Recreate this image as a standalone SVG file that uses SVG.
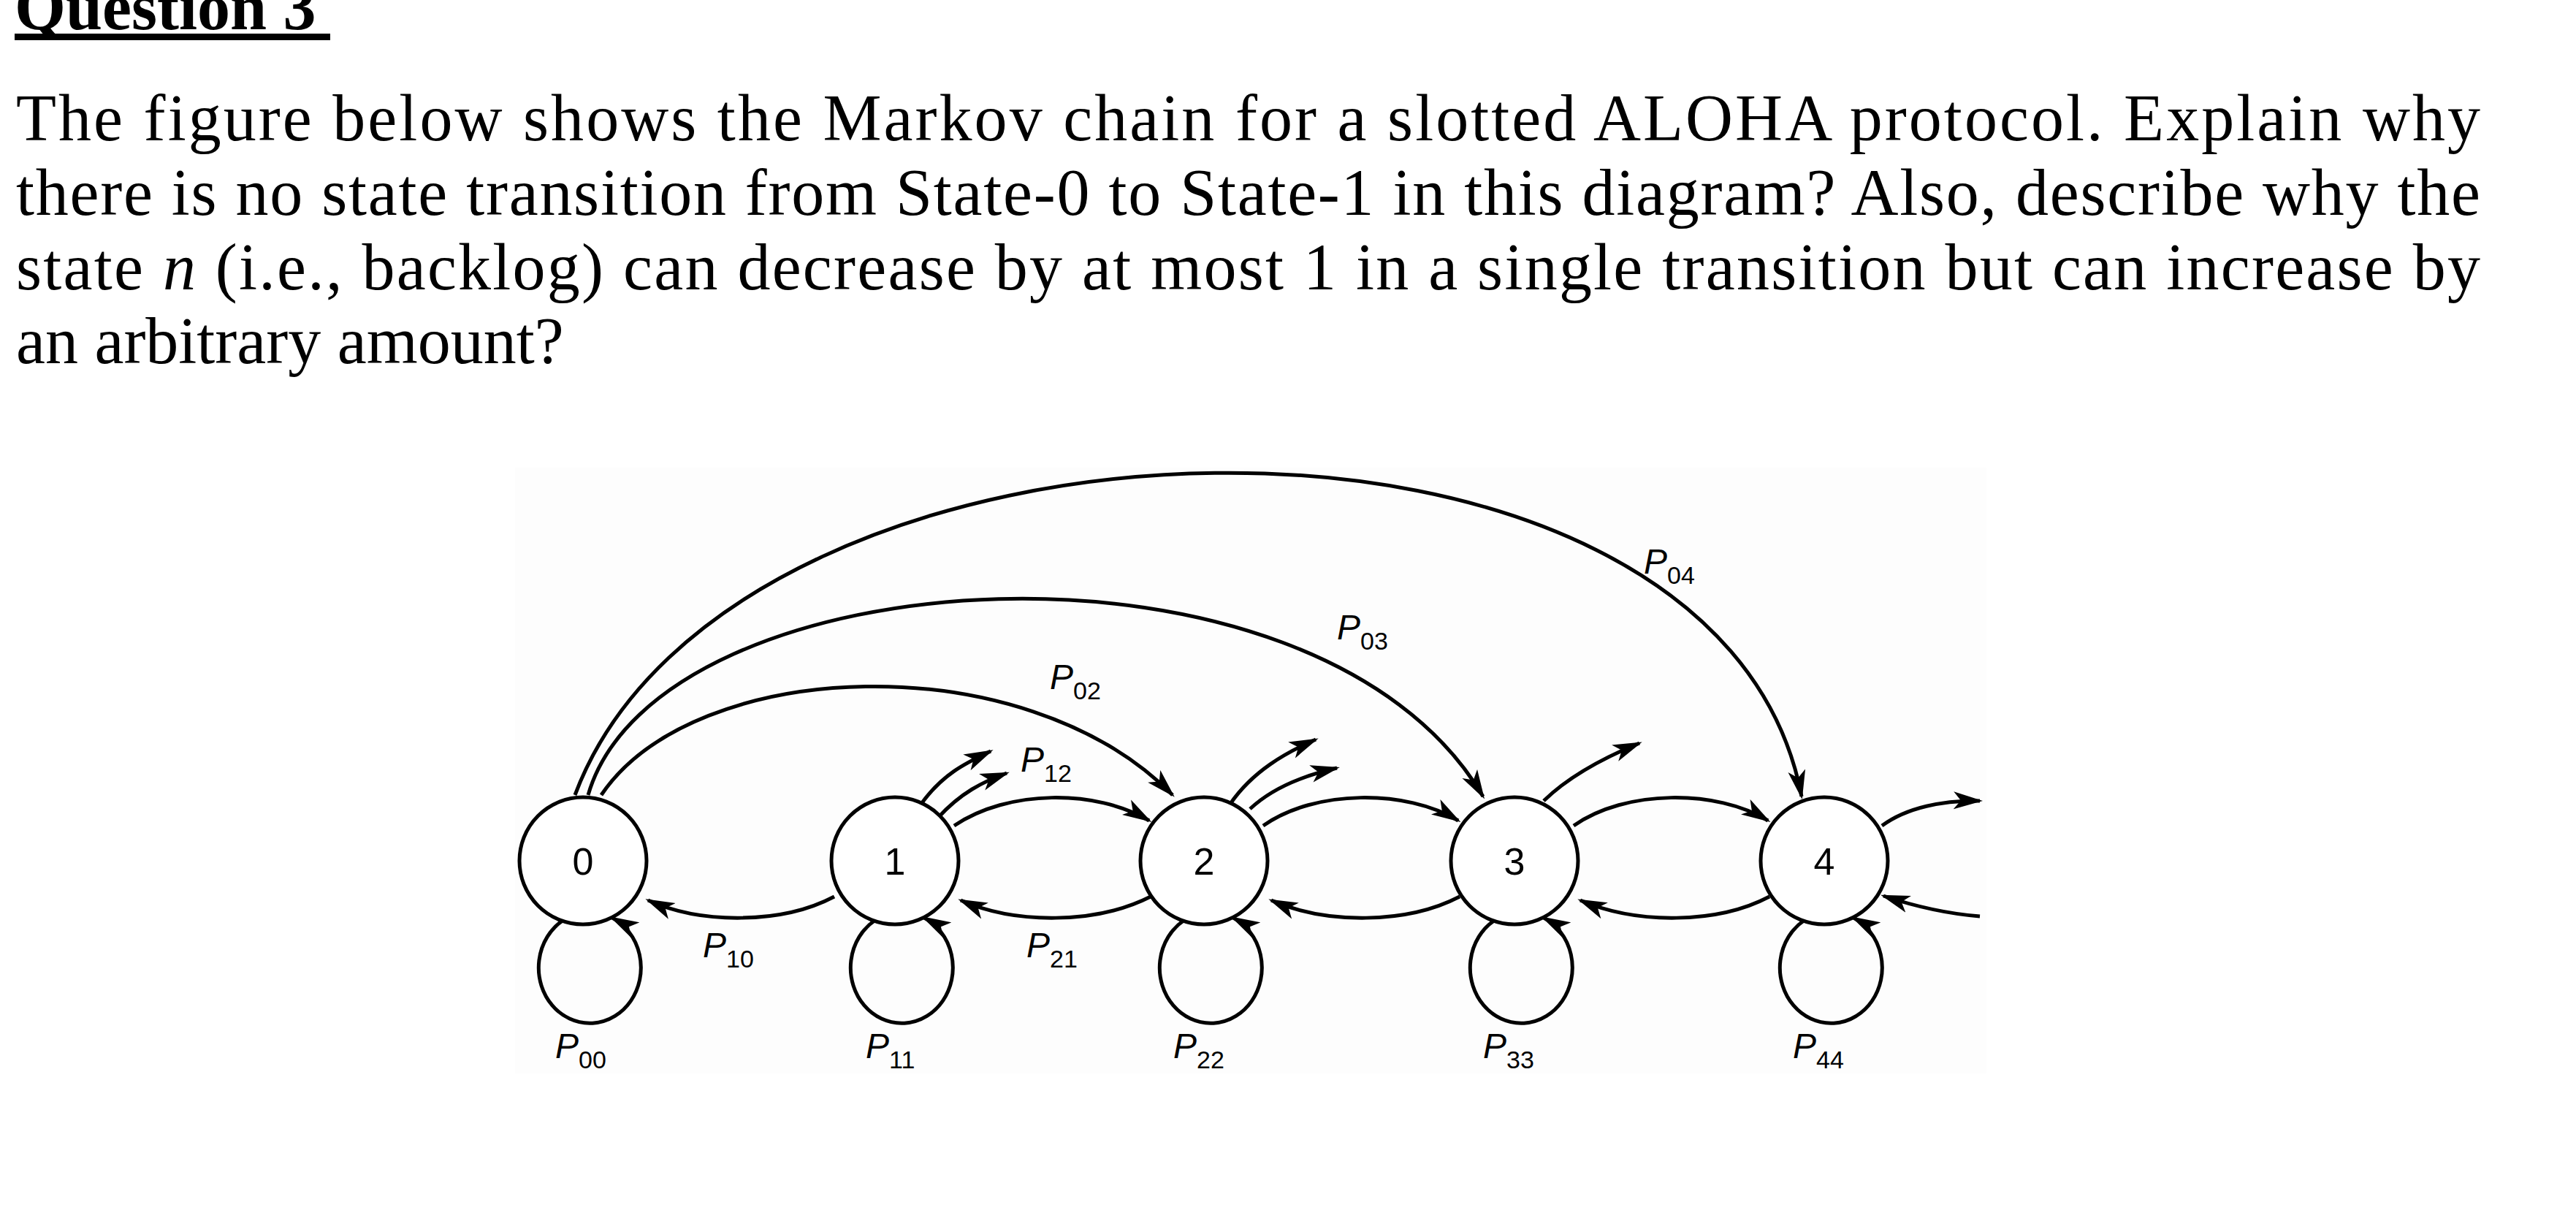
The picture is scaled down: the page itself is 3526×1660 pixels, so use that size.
<svg xmlns="http://www.w3.org/2000/svg" width="3526" height="1660" viewBox="0 0 3526 1660">
<style>
.q{font-family:"Liberation Serif","Times New Roman",serif;font-size:90px;fill:#000}
.n{fill:#fff;stroke:#000;stroke-width:5}
.nl{font-family:"Liberation Sans",Arial,sans-serif;font-size:52px;text-anchor:middle;fill:#000}
.e{fill:none;stroke:#000;stroke-width:5;marker-end:url(#ah)}
.p{font-family:"Liberation Sans",Arial,sans-serif;font-size:48px;font-style:italic;fill:#000}
.s{font-size:34px;font-style:normal}
</style>
<defs>
<marker id="ah" viewBox="0 0 20 12" refX="18" refY="6" markerWidth="8" markerHeight="5" markerUnits="strokeWidth" orient="auto">
<path d="M0,0 L20,6 L0,12 L5,6 Z" fill="#000"/>
</marker>
</defs>
<rect width="3526" height="1660" fill="#fff"/>
<g id="question">
<text class="q" x="20" y="40" font-weight="bold">Question 3</text>
<rect x="20" y="46" width="432" height="9" fill="#000"/>
<text class="q" x="22" y="192" textLength="3373" lengthAdjust="spacing">The figure below shows the Markov chain for a slotted ALOHA protocol. Explain why</text>
<text class="q" x="22" y="294" textLength="3373" lengthAdjust="spacing">there is no state transition from State-0 to State-1 in this diagram? Also, describe why the</text>
<text class="q" x="22" y="396" textLength="3373" lengthAdjust="spacing">state <tspan font-style="italic">n</tspan> (i.e., backlog) can decrease by at most 1 in a single transition but can increase by</text>
<text class="q" x="22" y="497">an arbitrary amount?</text>
</g>
<rect x="705" y="640" width="2014" height="829" fill="#fdfdfd"/>
<g id="connectors">
<path class="e" d="M823,1088 C950,900 1400,880 1605,1088"/>
<path class="e" d="M805,1088 C900,760 1800,700 2030,1090"/>
<path class="e" d="M787,1088 C1000,520 2350,480 2466,1090"/>
<path class="e" d="M1306,1130 C1380,1080 1500,1080 1573,1123"/>
<path class="e" d="M1729,1130 C1800,1080 1925,1080 1996,1123"/>
<path class="e" d="M2154,1130 C2225,1080 2350,1080 2420,1123"/>
<path class="e" d="M1142,1227 C1070,1265 960,1265 887,1232"/>
<path class="e" d="M1575,1227 C1500,1265 1390,1265 1315,1232"/>
<path class="e" d="M1998,1227 C1925,1265 1815,1265 1740,1232"/>
<path class="e" d="M2422,1227 C2350,1265 2240,1265 2163,1232"/>
<path class="e" d="M2576,1130 C2610,1105 2660,1095 2710,1096"/>
<path class="e" d="M2710,1254 C2660,1250 2620,1240 2578,1226"/>
<path class="e" d="M1261,1100 C1290,1060 1320,1045 1356,1028"/>
<path class="e" d="M1284,1119 C1315,1085 1345,1070 1378,1058"/>
<path class="e" d="M1684,1100 C1715,1055 1760,1030 1801,1012"/>
<path class="e" d="M1711,1107 C1745,1075 1790,1060 1830,1051"/>
<path class="e" d="M2113,1096 C2150,1060 2200,1035 2244,1017"/>
<g id="selfloops">
<path class="e" d="M770,1260 A70 76 0 1 0 838,1256"/>
<path class="e" d="M1197,1260 A70 76 0 1 0 1265,1256"/>
<path class="e" d="M1620,1260 A70 76 0 1 0 1688,1256"/>
<path class="e" d="M2045,1260 A70 76 0 1 0 2113,1256"/>
<path class="e" d="M2469,1260 A70 76 0 1 0 2537,1256"/>
</g>
</g>
<g id="node0"><circle class="n" cx="798" cy="1178" r="87"/><text class="nl" x="798" y="1197">0</text></g>
<g id="node1"><circle class="n" cx="1225" cy="1178" r="87"/><text class="nl" x="1225" y="1197">1</text></g>
<g id="node2"><circle class="n" cx="1648" cy="1178" r="87"/><text class="nl" x="1648" y="1197">2</text></g>
<g id="node3"><circle class="n" cx="2073" cy="1178" r="87"/><text class="nl" x="2073" y="1197">3</text></g>
<g id="node4"><circle class="n" cx="2497" cy="1178" r="87"/><text class="nl" x="2497" y="1197">4</text></g>
<g id="labels">
<text class="p" x="2250" y="785">P<tspan class="s" dy="14">04</tspan></text>
<text class="p" x="1830" y="875">P<tspan class="s" dy="14">03</tspan></text>
<text class="p" x="1437" y="943">P<tspan class="s" dy="14">02</tspan></text>
<text class="p" x="1397" y="1056">P<tspan class="s" dy="14">12</tspan></text>
<text class="p" x="962" y="1310">P<tspan class="s" dy="14">10</tspan></text>
<text class="p" x="1405" y="1310">P<tspan class="s" dy="14">21</tspan></text>
<text class="p" x="760" y="1448">P<tspan class="s" dy="14">00</tspan></text>
<text class="p" x="1185" y="1448">P<tspan class="s" dy="14">11</tspan></text>
<text class="p" x="1606" y="1448">P<tspan class="s" dy="14">22</tspan></text>
<text class="p" x="2030" y="1448">P<tspan class="s" dy="14">33</tspan></text>
<text class="p" x="2454" y="1448">P<tspan class="s" dy="14">44</tspan></text>
</g>
</svg>
